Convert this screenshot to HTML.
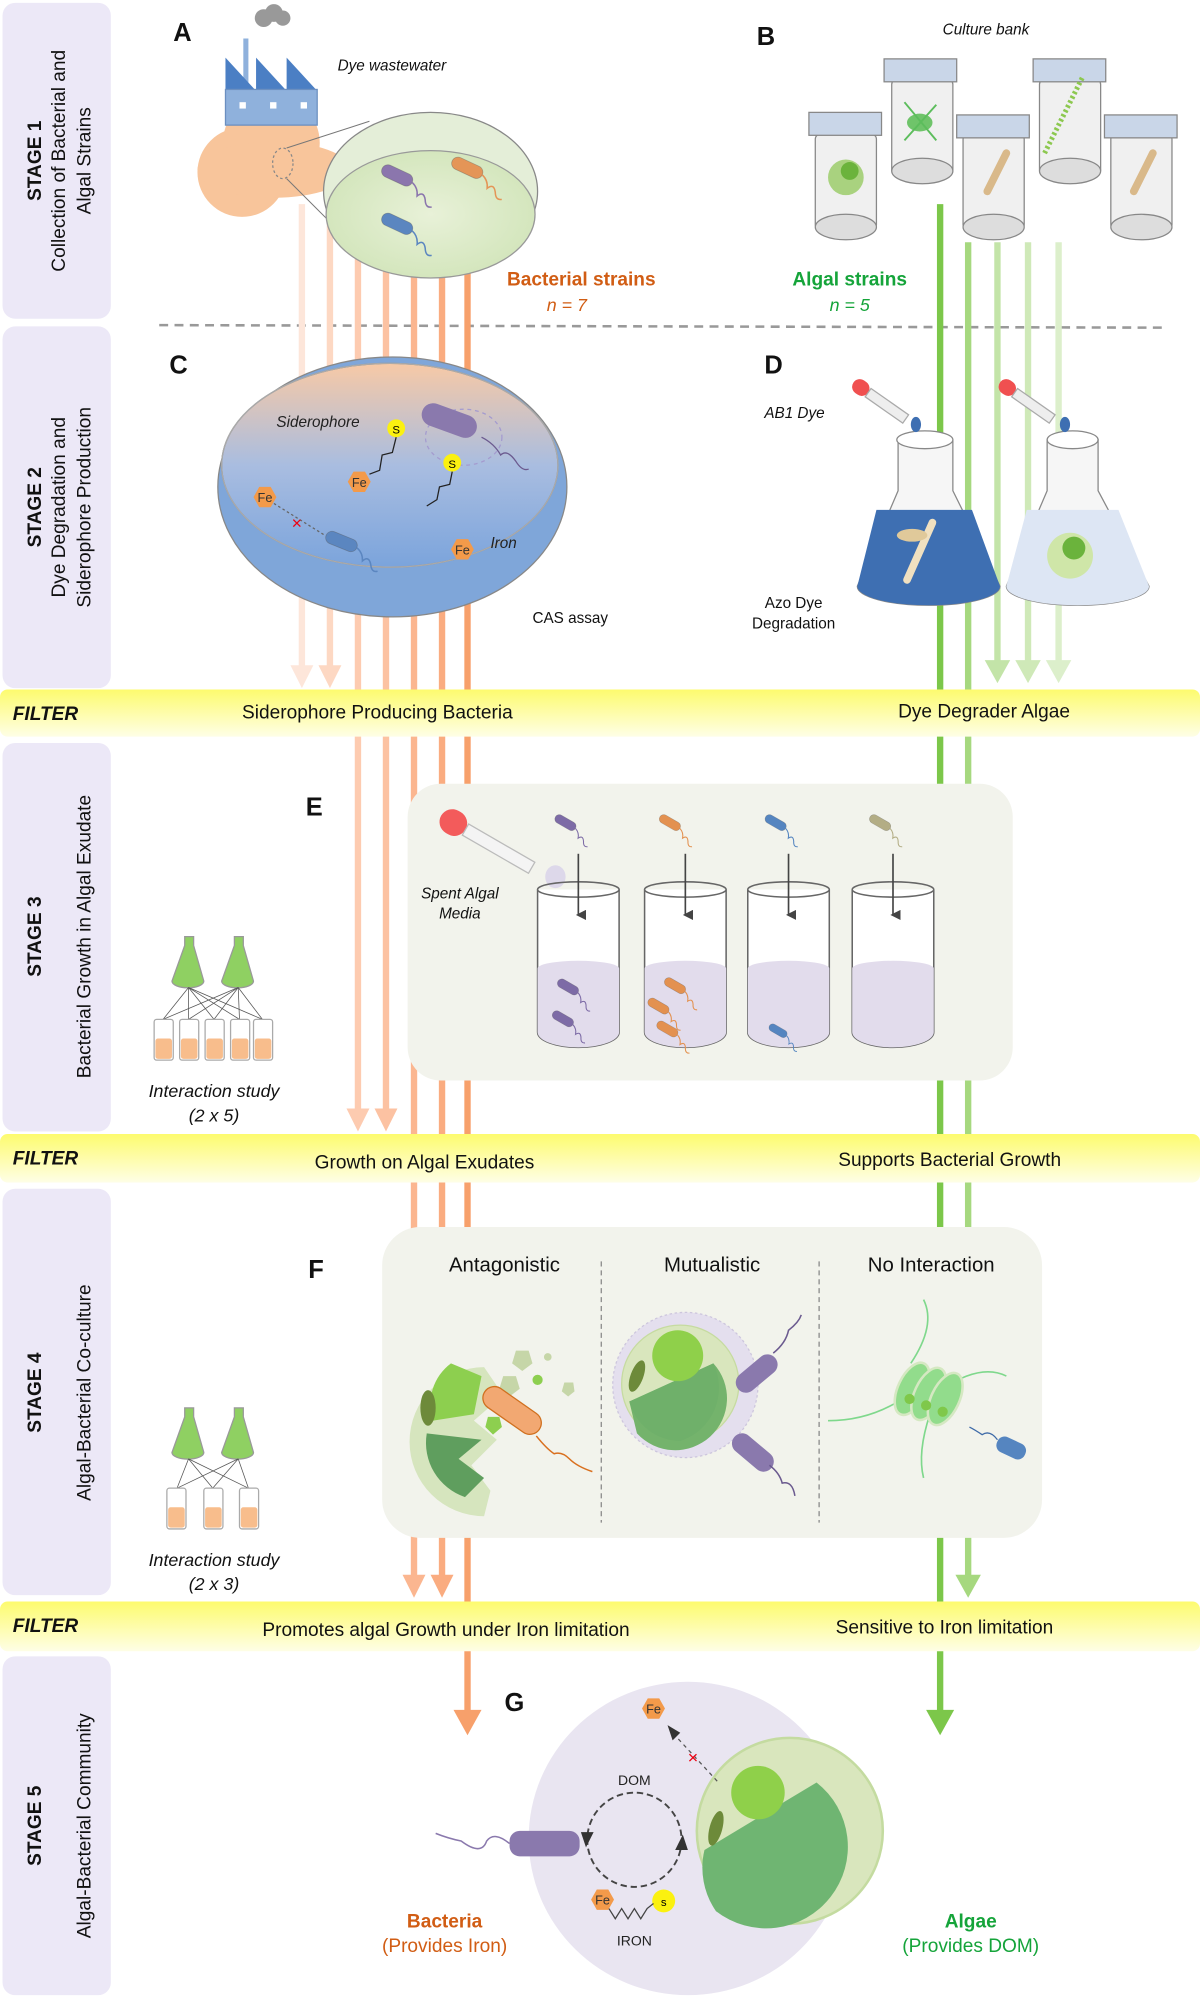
<!DOCTYPE html>
<html><head><meta charset="utf-8"><style>
html,body{margin:0;padding:0;background:#fff}
svg{display:block}
text{font-family:"Liberation Sans",Arial,sans-serif}
</style></head><body>
<svg width="1200" height="1998" viewBox="0 0 942 1568" xmlns="http://www.w3.org/2000/svg">
<defs>
<linearGradient id="fy" x1="0" y1="0" x2="0" y2="1"><stop offset="0" stop-color="#fdfb6e"/><stop offset="1" stop-color="#fefee6"/></linearGradient>
<linearGradient id="cas" x1="0" y1="0" x2="0" y2="1"><stop offset="0" stop-color="#f7c9a6"/><stop offset="0.5" stop-color="#a9bde0"/><stop offset="1" stop-color="#7ba4dc"/></linearGradient>
<radialGradient id="plate" cx="0.5" cy="0.5" r="0.5"><stop offset="0" stop-color="#e8f1d8"/><stop offset="1" stop-color="#d4e6bd"/></radialGradient>
<g id="bac"><rect x="0" y="-5" width="26" height="10" rx="5" fill="currentColor" stroke="#555" stroke-width="0.6" stroke-opacity="0.4"/><path d="M26 0 q6 2 8 8 q3 -6 7 0 q3 6 7 3" fill="none" stroke="currentColor" stroke-width="1.2"/></g>
<g id="fe"><polygon points="-9,0 -4.5,-8 4.5,-8 9,0 4.5,8 -4.5,8" fill="#f39a4a"/><text x="0" y="4" font-size="10" text-anchor="middle" fill="#333">Fe</text></g>
<marker id="ah" markerWidth="8" markerHeight="8" refX="4" refY="6" orient="auto" markerUnits="userSpaceOnUse"><path d="M0 0 L8 0 L4 8z" fill="#444"/></marker>
</defs>

<!-- stage sidebars -->
<rect x="2" y="2" width="85" height="248" rx="10" fill="#ece8f7"/>
<rect x="2" y="256" width="85" height="284" rx="10" fill="#ece8f7"/>
<rect x="2" y="583" width="85" height="305" rx="10" fill="#ece8f7"/>
<rect x="2" y="933" width="85" height="319" rx="10" fill="#ece8f7"/>
<rect x="2" y="1300" width="85" height="266" rx="10" fill="#ece8f7"/>
<g font-size="15" fill="#111" text-anchor="middle">
<text transform="translate(32,126) rotate(-90)" font-weight="bold">STAGE 1</text>
<text transform="translate(51,126) rotate(-90)">Collection of Bacterial and</text>
<text transform="translate(71,126) rotate(-90)">Algal Strains</text>
<text transform="translate(32,398) rotate(-90)" font-weight="bold">STAGE 2</text>
<text transform="translate(51,398) rotate(-90)">Dye Degradation and</text>
<text transform="translate(71,398) rotate(-90)">Siderophore Production</text>
<text transform="translate(32,735) rotate(-90)" font-weight="bold">STAGE 3</text>
<text transform="translate(71,735) rotate(-90)">Bacterial Growth in Algal Exudate</text>
<text transform="translate(32,1093) rotate(-90)" font-weight="bold">STAGE 4</text>
<text transform="translate(71,1093) rotate(-90)">Algal-Bacterial Co-culture</text>
<text transform="translate(32,1433) rotate(-90)" font-weight="bold">STAGE 5</text>
<text transform="translate(71,1433) rotate(-90)">Algal-Bacterial Community</text>
</g>

<!-- dashed separator -->
<line x1="125" y1="255" x2="912" y2="257" stroke="#999" stroke-width="2" stroke-dasharray="7,5"/>

<!-- orange lines -->
<g stroke-width="5">
<line x1="237" y1="160" x2="237" y2="525" stroke="#fde6da"/>
<line x1="259" y1="160" x2="259" y2="525" stroke="#fdd8c3"/>
<line x1="281" y1="160" x2="281" y2="872" stroke="#fdcbb0"/>
<line x1="303" y1="160" x2="303" y2="872" stroke="#fcc2a2"/>
<line x1="325" y1="160" x2="325" y2="1240" stroke="#fbb690"/>
<line x1="347" y1="160" x2="347" y2="1240" stroke="#faac80"/>
<line x1="367" y1="160" x2="367" y2="1345" stroke="#f7a06b"/>
<line x1="738" y1="160" x2="738" y2="1345" stroke="#7cc74a"/>
<line x1="760" y1="190" x2="760" y2="1240" stroke="#a6d87f"/>
<line x1="783" y1="190" x2="783" y2="522" stroke="#c3e4a8"/>
<line x1="807" y1="190" x2="807" y2="522" stroke="#cfe9b8"/>
<line x1="831" y1="190" x2="831" y2="522" stroke="#dcefcb"/>
</g>
<g>
<polygon points="228,522 246,522 237,540" fill="#fde6da"/>
<polygon points="250,522 268,522 259,540" fill="#fdd8c3"/>
<polygon points="272,870 290,870 281,888" fill="#fdcbb0"/>
<polygon points="294,870 312,870 303,888" fill="#fcc2a2"/>
<polygon points="316,1236 334,1236 325,1254" fill="#fbb690"/>
<polygon points="338,1236 356,1236 347,1254" fill="#faac80"/>
<polygon points="356,1342 378,1342 367,1362" fill="#f7a06b"/>
<polygon points="727,1342 749,1342 738,1362" fill="#7cc74a"/>
<polygon points="750,1236 770,1236 760,1254" fill="#a6d87f"/>
<polygon points="773,518 793,518 783,536" fill="#c3e4a8"/>
<polygon points="797,518 817,518 807,536" fill="#cfe9b8"/>
<polygon points="821,518 841,518 831,536" fill="#dcefcb"/>
</g>

<!-- filters -->
<rect x="0" y="541" width="942" height="37" rx="6" fill="url(#fy)"/>
<rect x="0" y="890" width="942" height="38" rx="6" fill="url(#fy)"/>
<rect x="0" y="1257" width="942" height="39" rx="6" fill="url(#fy)"/>
<g font-size="15" fill="#111">
<text x="10" y="565" font-style="italic" font-weight="bold">FILTER</text>
<text x="190" y="564">Siderophore Producing Bacteria</text>
<text x="705" y="563">Dye Degrader Algae</text>
<text x="10" y="914" font-style="italic" font-weight="bold">FILTER</text>
<text x="247" y="917">Growth on Algal Exudates</text>
<text x="658" y="915">Supports Bacterial Growth</text>
<text x="10" y="1281" font-style="italic" font-weight="bold">FILTER</text>
<text x="206" y="1284">Promotes algal Growth under Iron limitation</text>
<text x="656" y="1282">Sensitive to Iron limitation</text>
</g>

<!-- panel letters -->
<g font-size="20" font-weight="bold" fill="#111">
<text x="136" y="32">A</text><text x="594" y="35">B</text>
<text x="133" y="293">C</text><text x="600" y="293">D</text>
<text x="240" y="640">E</text><text x="242" y="1003">F</text>
<text x="396" y="1343">G</text>
</g>

<!-- Stage 1 A -->
<circle cx="190" cy="135" r="35" fill="#f8c59b"/>
<circle cx="213" cy="112" r="38" fill="#f8c59b"/>
<ellipse cx="215" cy="133" rx="60" ry="22" fill="#f8c59b"/>
<rect x="191" y="30" width="4" height="40" fill="#8fb1dc"/>
<circle cx="207" cy="14" r="7" fill="#999"/><circle cx="215" cy="10" r="7" fill="#999"/><circle cx="222" cy="14" r="6" fill="#999"/>
<polygon points="177,70 177,45 200,70" fill="#4b7fc4"/>
<polygon points="201,70 201,45 224,70" fill="#4b7fc4"/>
<polygon points="225,70 225,45 248,70" fill="#4b7fc4"/>
<rect x="177" y="70" width="72" height="28" fill="#8fb1dc" stroke="#6b8fc0"/>
<rect x="188" y="80" width="5" height="5" fill="#fff"/><rect x="212" y="80" width="5" height="5" fill="#fff"/><rect x="236" y="80" width="5" height="5" fill="#fff"/>
<ellipse cx="222" cy="128" rx="8" ry="12" fill="none" stroke="#888" stroke-dasharray="2,2"/>
<line x1="225" y1="116" x2="290" y2="95" stroke="#777" stroke-width="0.8"/>
<line x1="225" y1="140" x2="275" y2="190" stroke="#777" stroke-width="0.8"/>
<ellipse cx="338" cy="150" rx="84" ry="62" fill="#e4eed8" stroke="#888"/>
<ellipse cx="338" cy="168" rx="82" ry="50" fill="url(#plate)" stroke="#999"/>
<use href="#bac" color="#8b76ad" transform="translate(300,132) rotate(25)"/>
<use href="#bac" color="#e49557" transform="translate(355,126) rotate(25)"/>
<use href="#bac" color="#5b86c0" transform="translate(300,170) rotate(25)"/>
<text x="265" y="55" font-size="12" font-style="italic" fill="#111">Dye wastewater</text>
<text x="398" y="224" font-size="15" font-weight="bold" fill="#d15d14">Bacterial strains</text>
<text x="445" y="244" font-size="14" font-style="italic" fill="#d15d14" text-anchor="middle">n = 7</text>

<!-- Stage 1 B -->
<text x="740" y="27" font-size="12" font-style="italic" fill="#111">Culture bank</text>
<g fill="#f0f0f0" stroke="#888">
<rect x="640" y="105" width="48" height="75" rx="4"/><ellipse cx="664" cy="178" rx="24" ry="10" fill="#ddd"/><rect x="635" y="88" width="57" height="18" fill="#c9d6e8"/>
<rect x="700" y="62" width="48" height="75" rx="4"/><ellipse cx="724" cy="134" rx="24" ry="10" fill="#ddd"/><rect x="694" y="46" width="57" height="18" fill="#c9d6e8"/>
<rect x="756" y="105" width="48" height="75" rx="4"/><ellipse cx="780" cy="178" rx="24" ry="10" fill="#ddd"/><rect x="751" y="90" width="57" height="18" fill="#c9d6e8"/>
<rect x="816" y="62" width="48" height="75" rx="4"/><ellipse cx="840" cy="134" rx="24" ry="10" fill="#ddd"/><rect x="811" y="46" width="57" height="18" fill="#c9d6e8"/>
<rect x="872" y="105" width="48" height="75" rx="4"/><ellipse cx="896" cy="178" rx="24" ry="10" fill="#ddd"/><rect x="867" y="90" width="57" height="18" fill="#c9d6e8"/>
</g>
<circle cx="664" cy="139" r="14" fill="#a9d27f"/><circle cx="667" cy="134" r="7" fill="#6bb33c"/>
<ellipse cx="722" cy="96" rx="10" ry="7" fill="#6fc46a"/>
<path d="M710 80 l25 30 M735 82 l-25 28" stroke="#5cbd5c" stroke-width="1.5"/>
<path d="M775 150 l15 -30" stroke="#d9b98a" stroke-width="6" stroke-linecap="round"/>
<path d="M820 120 l30 -60" stroke="#8cc84f" stroke-width="4" stroke-dasharray="2,2"/>
<path d="M890 150 l15 -30" stroke="#d9b98a" stroke-width="6" stroke-linecap="round"/>
<text x="667" y="224" font-size="15" font-weight="bold" fill="#15a43a" text-anchor="middle">Algal strains</text>
<text x="667" y="244" font-size="14" font-style="italic" fill="#15a43a" text-anchor="middle">n = 5</text>

<!-- Stage 2 C -->
<ellipse cx="308" cy="382" rx="137" ry="102" fill="#7fa6d9" stroke="#888"/>
<ellipse cx="306" cy="365" rx="132" ry="80" fill="url(#cas)" stroke="#888"/>
<ellipse cx="306" cy="365" rx="132" ry="80" fill="none" stroke="#aaa"/>
<text x="217" y="335" font-size="12" font-style="italic" fill="#222">Siderophore</text>
<ellipse cx="364" cy="343" rx="30" ry="22" fill="none" stroke="#a49bcf" stroke-dasharray="3,3"/>
<rect x="330" y="320" width="45" height="18" rx="9" fill="#8a79ad" transform="rotate(20 350 330)"/>
<path d="M378 343 q10 5 15 14 q5 -5 12 5 q5 8 10 6" fill="none" stroke="#6b5a8f"/>
<circle cx="311" cy="336" r="7" fill="#fbf110"/><text x="311" y="340" font-size="9" text-anchor="middle">S</text>
<circle cx="355" cy="363" r="7" fill="#fbf110"/><text x="355" y="367" font-size="9" text-anchor="middle">S</text>
<path d="M311 343 l-3 12 l-8 2 l-2 12 l-8 3" fill="none" stroke="#222"/>
<path d="M355 370 l-2 10 l-8 2 l-2 10 l-8 5" fill="none" stroke="#222"/>
<use href="#fe" transform="translate(282,378)"/>
<use href="#fe" transform="translate(208,390)"/>
<use href="#fe" transform="translate(363,431)"/>
<line x1="215" y1="395" x2="255" y2="420" stroke="#666" stroke-dasharray="2,2"/>
<text x="233" y="415" font-size="14" fill="#e01" text-anchor="middle">×</text>
<use href="#bac" color="#5b86c0" transform="translate(256,420) rotate(22)"/>
<text x="385" y="430" font-size="12" font-style="italic" fill="#222">Iron</text>
<text x="418" y="489" font-size="12" fill="#111">CAS assay</text>

<!-- Stage 2 D -->
<text x="600" y="328" font-size="12" font-style="italic" fill="#111">AB1 Dye</text>
<text x="623" y="477" font-size="12" fill="#111" text-anchor="middle">Azo Dye</text>
<text x="623" y="493" font-size="12" fill="#111" text-anchor="middle">Degradation</text>
<path d="M705 345 L705 385 L673 460 A45 12 0 0 0 785 460 L748 385 L748 345 Z" fill="#f6f6f6" stroke="#888"/>
<path d="M688 400 L763 400 L785 460 A45 12 0 0 1 673 460 Z" fill="#3e6fb2"/>
<ellipse cx="726" cy="345" rx="22" ry="7" fill="#fff" stroke="#888"/>
<path d="M712 455 l20 -45" stroke="#f0e0c0" stroke-width="6" stroke-linecap="round"/>
<ellipse cx="716" cy="420" rx="12" ry="5" fill="#e0c99a"/>
<path d="M822 345 L822 385 L790 460 A45 12 0 0 0 902 460 L862 385 L862 345 Z" fill="#f6f6f6" stroke="#888"/>
<path d="M806 400 L878 400 L902 460 A45 12 0 0 1 790 460 Z" fill="#dde6f4"/>
<ellipse cx="842" cy="345" rx="20" ry="7" fill="#fff" stroke="#888"/>
<circle cx="840" cy="436" r="18" fill="#cfe6a8"/><circle cx="843" cy="430" r="9" fill="#6bb33c"/>
<g transform="translate(670,300) rotate(35)"><rect x="0" y="-6" width="14" height="12" rx="6" fill="#f05050"/><rect x="14" y="-4" width="36" height="8" fill="#eee" stroke="#aaa"/></g>
<ellipse cx="719" cy="333" rx="4" ry="6" fill="#3e6fb2"/>
<g transform="translate(785,300) rotate(35)"><rect x="0" y="-6" width="14" height="12" rx="6" fill="#f05050"/><rect x="14" y="-4" width="36" height="8" fill="#eee" stroke="#aaa"/></g>
<ellipse cx="836" cy="333" rx="4" ry="6" fill="#3e6fb2"/>

<!-- Stage 3 E -->
<rect x="320" y="615" width="475" height="233" rx="26" fill="#f2f3ec"/>
<g transform="translate(355,645) rotate(30)"><rect x="-10" y="-10" width="22" height="20" rx="10" fill="#f35b5b"/><rect x="12" y="-5" width="60" height="10" fill="#f4f4f4" stroke="#bbb"/></g>
<ellipse cx="436" cy="688" rx="8" ry="9" fill="#ddd8ea"/>
<text x="361" y="705" font-size="12" font-style="italic" fill="#111" text-anchor="middle">Spent Algal</text>
<text x="361" y="721" font-size="12" font-style="italic" fill="#111" text-anchor="middle">Media</text>
<g stroke="#666" stroke-width="1.2">
<path d="M422 698 L422 810 A32 12 0 0 0 486 810 L486 698" fill="#fff"/>
<path d="M422 760 A32 6 0 0 1 486 760 L486 810 A32 12 0 0 1 422 810 Z" fill="#e2dcec" stroke="none"/>
<ellipse cx="454" cy="698" rx="32" ry="6" fill="none"/>
<path d="M506 698 L506 810 A32 12 0 0 0 570 810 L570 698" fill="#fff"/>
<path d="M506 760 A32 6 0 0 1 570 760 L570 810 A32 12 0 0 1 506 810 Z" fill="#e2dcec" stroke="none"/>
<ellipse cx="538" cy="698" rx="32" ry="6" fill="none"/>
<path d="M587 698 L587 810 A32 12 0 0 0 651 810 L651 698" fill="#fff"/>
<path d="M587 760 A32 6 0 0 1 651 760 L651 810 A32 12 0 0 1 587 810 Z" fill="#e2dcec" stroke="none"/>
<ellipse cx="619" cy="698" rx="32" ry="6" fill="none"/>
<path d="M669 698 L669 810 A32 12 0 0 0 733 810 L733 698" fill="#fff"/>
<path d="M669 760 A32 6 0 0 1 733 760 L733 810 A32 12 0 0 1 669 810 Z" fill="#e2dcec" stroke="none"/>
<ellipse cx="701" cy="698" rx="32" ry="6" fill="none"/>
</g>
<g stroke="#444" stroke-width="1.3" marker-end="url(#ah)">
<line x1="454" y1="670" x2="454" y2="718"/><line x1="538" y1="670" x2="538" y2="718"/>
<line x1="619" y1="670" x2="619" y2="718"/><line x1="701" y1="670" x2="701" y2="718"/>
</g>
<use href="#bac" color="#7d6ba6" transform="translate(436,641) rotate(30) scale(0.7)"/>
<use href="#bac" color="#e39150" transform="translate(518,641) rotate(30) scale(0.7)"/>
<use href="#bac" color="#5585c0" transform="translate(601,641) rotate(30) scale(0.7)"/>
<use href="#bac" color="#b3ad85" transform="translate(683,641) rotate(30) scale(0.7)"/>
<use href="#bac" color="#7d6ba6" transform="translate(438,770) rotate(30) scale(0.7)"/>
<use href="#bac" color="#7d6ba6" transform="translate(434,795) rotate(30) scale(0.7)"/>
<use href="#bac" color="#e39150" transform="translate(522,769) rotate(30) scale(0.7)"/>
<use href="#bac" color="#e39150" transform="translate(509,785) rotate(30) scale(0.7)"/>
<use href="#bac" color="#e39150" transform="translate(516,803) rotate(30) scale(0.7)"/>
<use href="#bac" color="#5585c0" transform="translate(604,805) rotate(30) scale(0.6)"/>

<!-- interaction study 2x5 -->
<g>
<path d="M145 735 L145 742 L135 770 A12 5 0 0 0 160 770 L152 742 L152 735Z" fill="#8fd062" stroke="#999"/>
<path d="M184 735 L184 742 L174 770 A12 5 0 0 0 199 770 L191 742 L191 735Z" fill="#8fd062" stroke="#999"/>
<g stroke="#555" stroke-width="0.6">
<line x1="148" y1="775" x2="128" y2="800"/><line x1="148" y1="775" x2="148" y2="800"/><line x1="148" y1="775" x2="168" y2="800"/><line x1="148" y1="775" x2="188" y2="800"/><line x1="148" y1="775" x2="206" y2="800"/>
<line x1="187" y1="775" x2="128" y2="800"/><line x1="187" y1="775" x2="148" y2="800"/><line x1="187" y1="775" x2="168" y2="800"/><line x1="187" y1="775" x2="188" y2="800"/><line x1="187" y1="775" x2="206" y2="800"/>
</g>
<g stroke="#aaa" fill="#fff">
<rect x="121" y="800" width="15" height="32" rx="2"/><rect x="141" y="800" width="15" height="32" rx="2"/><rect x="161" y="800" width="15" height="32" rx="2"/><rect x="181" y="800" width="15" height="32" rx="2"/><rect x="199" y="800" width="15" height="32" rx="2"/>
</g>
<g fill="#f8bd8c"><rect x="122" y="815" width="13" height="16" rx="2"/><rect x="142" y="815" width="13" height="16" rx="2"/><rect x="162" y="815" width="13" height="16" rx="2"/><rect x="182" y="815" width="13" height="16" rx="2"/><rect x="200" y="815" width="13" height="16" rx="2"/></g>
</g>
<text x="168" y="861" font-size="14" font-style="italic" fill="#111" text-anchor="middle">Interaction study</text>
<text x="168" y="880" font-size="14" font-style="italic" fill="#111" text-anchor="middle">(2 x 5)</text>

<!-- Stage 4 F -->
<rect x="300" y="963" width="518" height="244" rx="30" fill="#f2f3ec"/>
<line x1="472" y1="990" x2="472" y2="1195" stroke="#888" stroke-dasharray="4,3"/>
<line x1="643" y1="990" x2="643" y2="1195" stroke="#888" stroke-dasharray="4,3"/>
<g font-size="16" fill="#111" text-anchor="middle">
<text x="396" y="998">Antagonistic</text><text x="559" y="998">Mutualistic</text><text x="731" y="998">No Interaction</text>
</g>
<path d="M380 1073 A58 58 0 1 0 380 1190 L385 1170 L370 1150 L390 1130 L372 1115 L395 1095Z" fill="#d6e5be"/>
<path d="M378 1080 L354 1070 A40 40 0 0 0 340 1115 L372 1110 Z" fill="#8dcf4f"/>
<path d="M335 1125 A45 45 0 0 0 365 1175 L380 1160 L360 1145 L378 1130 Z" fill="#5f9e5e"/>
<ellipse cx="336" cy="1105" rx="6" ry="14" fill="#6d8a3a"/>
<polygon points="405,1060 415,1060 418,1070 410,1076 402,1070" fill="#c6d6a8"/>
<polygon points="395,1080 405,1080 408,1090 400,1096 392,1090" fill="#c6d6a8"/>
<circle cx="422" cy="1083" r="4" fill="#8dcf4f"/><circle cx="430" cy="1065" r="3" fill="#c6d6a8"/>
<polygon points="383,1112 392,1112 394,1120 387,1126 381,1120" fill="#8dcf4f"/>
<polygon points="443,1085 450,1085 451,1092 446,1096 441,1092" fill="#c6d6a8"/>
<rect x="376" y="1098" width="52" height="18" rx="9" fill="#f2a872" stroke="#d0701f" transform="rotate(35 402 1107)"/>
<path d="M421 1127 q8 10 14 14 q6 -2 12 4 q6 6 18 10" fill="none" stroke="#d9701f" stroke-width="1.2"/>
<ellipse cx="538" cy="1087" rx="57" ry="57" fill="#e4dfee" stroke="#cdc6dd" stroke-dasharray="2,2"/>
<circle cx="534" cy="1086" r="46" fill="#d9e6bd" stroke="#c6dba0"/>
<path d="M494 1100 L560 1070 A40 40 0 0 1 500 1125 Z" fill="#74b36c"/>
<path d="M494 1100 L560 1070 A44 44 0 0 1 534 1131 A42 42 0 0 1 494 1100Z" fill="#6fb06a"/>
<circle cx="532" cy="1064" r="20" fill="#8fd04a"/>
<ellipse cx="500" cy="1080" rx="5" ry="13" fill="#6d8a3a" transform="rotate(20 500 1080)"/>
<rect x="575" y="1070" width="38" height="16" rx="8" fill="#8a79ad" transform="rotate(-40 594 1078)"/>
<path d="M607 1062 q10 -8 12 -18 q8 -6 10 -12" fill="none" stroke="#6b5a8f" stroke-width="1.2"/>
<rect x="572" y="1132" width="38" height="16" rx="8" fill="#8a79ad" transform="rotate(40 591 1140)"/>
<path d="M604 1150 q8 6 10 14 q8 -2 10 10" fill="none" stroke="#6b5a8f" stroke-width="1.2"/>
<g fill="none" stroke="#7fd88c" stroke-width="1.3">
<path d="M715 1070 q20 -30 10 -50"/><path d="M705 1100 q-25 15 -55 15"/><path d="M740 1090 q30 -20 50 -10"/><path d="M730 1110 q-10 30 -5 50"/>
</g>
<ellipse cx="716" cy="1090" rx="11" ry="22" fill="#92dc8c" stroke="#d5e8c2" stroke-width="2" transform="rotate(25 716 1090)"/>
<ellipse cx="729" cy="1094" rx="11" ry="22" fill="#92dc8c" stroke="#d5e8c2" stroke-width="2" transform="rotate(25 729 1094)"/>
<ellipse cx="742" cy="1098" rx="11" ry="22" fill="#92dc8c" stroke="#d5e8c2" stroke-width="2" transform="rotate(25 742 1098)"/>
<circle cx="714" cy="1098" r="4" fill="#7fc84a"/><circle cx="727" cy="1103" r="4" fill="#7fc84a"/><circle cx="740" cy="1108" r="4" fill="#7fc84a"/>
<rect x="782" y="1130" width="24" height="13" rx="6" fill="#5585c0" transform="rotate(25 794 1136)"/>
<path d="M783 1130 q-6 -8 -12 -4 q-6 -4 -10 -6" fill="none" stroke="#3e6aa8"/>
<!-- interaction study 2x3 -->
<path d="M145 1105 L145 1112 L135 1140 A12 5 0 0 0 160 1140 L152 1112 L152 1105Z" fill="#8fd062" stroke="#999"/>
<path d="M184 1105 L184 1112 L174 1140 A12 5 0 0 0 199 1140 L191 1112 L191 1105Z" fill="#8fd062" stroke="#999"/>
<g stroke="#555" stroke-width="0.6">
<line x1="148" y1="1145" x2="139" y2="1168"/><line x1="148" y1="1145" x2="167" y2="1168"/><line x1="148" y1="1145" x2="195" y2="1168"/>
<line x1="187" y1="1145" x2="139" y2="1168"/><line x1="187" y1="1145" x2="167" y2="1168"/><line x1="187" y1="1145" x2="195" y2="1168"/>
</g>
<g stroke="#aaa" fill="#fff"><rect x="131" y="1168" width="15" height="32" rx="2"/><rect x="160" y="1168" width="15" height="32" rx="2"/><rect x="188" y="1168" width="15" height="32" rx="2"/></g>
<g fill="#f8bd8c"><rect x="132" y="1183" width="13" height="16" rx="2"/><rect x="161" y="1183" width="13" height="16" rx="2"/><rect x="189" y="1183" width="13" height="16" rx="2"/></g>
<text x="168" y="1229" font-size="14" font-style="italic" fill="#111" text-anchor="middle">Interaction study</text>
<text x="168" y="1248" font-size="14" font-style="italic" fill="#111" text-anchor="middle">(2 x 3)</text>

<!-- Stage 5 G -->
<ellipse cx="540" cy="1443" rx="125" ry="123" fill="#e9e5f1"/>
<circle cx="620" cy="1437" r="73" fill="#d9e6bd" stroke="#c4dba0" stroke-width="2"/>
<path d="M553 1452 L641 1399 A62 62 0 0 1 562 1500 A60 60 0 0 1 553 1452Z" fill="#6fb572"/>
<circle cx="595" cy="1407" r="21" fill="#8fd04a"/>
<ellipse cx="562" cy="1435" rx="5" ry="14" fill="#6d8a3a" transform="rotate(15 562 1435)"/>
<use href="#fe" transform="translate(513,1341)"/>
<line x1="563" y1="1398" x2="528" y2="1360" stroke="#555" stroke-dasharray="3,3"/>
<polygon points="524,1354 534,1360 528,1366" fill="#333"/>
<text x="544" y="1384" font-size="14" fill="#e01" text-anchor="middle">×</text>
<text x="498" y="1401" font-size="11" fill="#222" text-anchor="middle">DOM</text>
<text x="498" y="1527" font-size="11" fill="#222" text-anchor="middle">IRON</text>
<circle cx="498" cy="1444" r="37" fill="none" stroke="#444" stroke-width="1.5" stroke-dasharray="5,3"/>
<polygon points="456,1438 466,1438 460,1450" fill="#333"/>
<polygon points="530,1452 540,1452 536,1440" fill="#333"/>
<rect x="400" y="1437" width="55" height="20" rx="8" fill="#8a79ad"/>
<path d="M400 1447 q-12 -10 -18 -2 q-4 12 -20 0 q-10 -2 -20 -6" fill="none" stroke="#8a79ad" stroke-width="1.2"/>
<use href="#fe" transform="translate(473,1491)"/>
<circle cx="521" cy="1492" r="9" fill="#fbf110"/><text x="521" y="1496" font-size="9" text-anchor="middle">s</text>
<path d="M478 1498 l5 8 l5 -8 l5 8 l5 -8 l5 8 l5 -8 l5 -4" fill="none" stroke="#444"/>
<text x="349" y="1513" font-size="15" font-weight="bold" fill="#d15d14" text-anchor="middle">Bacteria</text>
<text x="349" y="1532" font-size="15" fill="#d15d14" text-anchor="middle">(Provides Iron)</text>
<text x="762" y="1513" font-size="15" font-weight="bold" fill="#15a43a" text-anchor="middle">Algae</text>
<text x="762" y="1532" font-size="15" fill="#15a43a" text-anchor="middle">(Provides DOM)</text>
</svg>
</body></html>
